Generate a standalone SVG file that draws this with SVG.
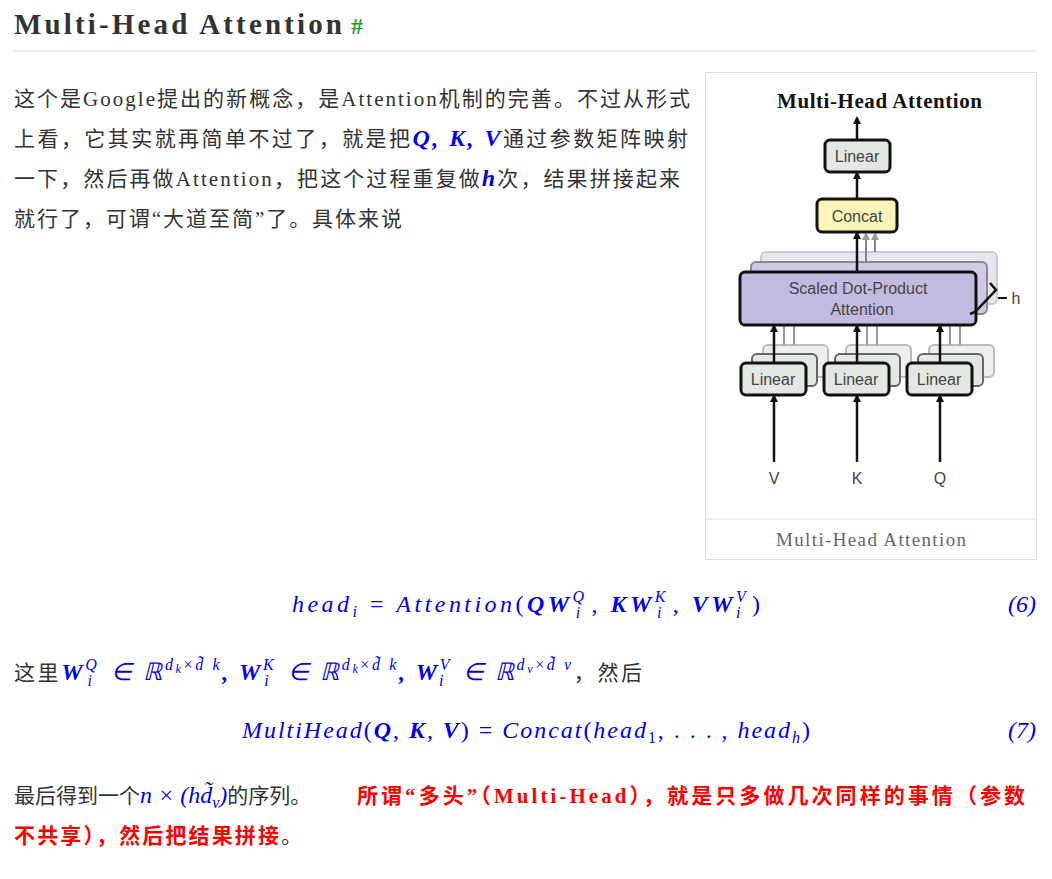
<svg xmlns="http://www.w3.org/2000/svg" width="1052" height="879" viewBox="0 0 1052 879">
<defs>
<style>
.t{font-family:"Liberation Serif","Noto Sans CJK SC",serif;font-size:21px;fill:#333}
.m{font-family:"Liberation Serif",serif;font-style:italic;fill:#0000ee;font-size:24px}
.b{font-weight:bold}
.s{font-size:16px}
.r{font-family:"Liberation Serif","Noto Sans CJK SC",serif;font-size:21px;fill:#f00;font-weight:bold}
.box{stroke:#111;stroke-width:3}
.lbl{font-family:"Liberation Sans",sans-serif;font-size:16px;fill:#444;text-anchor:middle}
.ar{stroke:#111;stroke-width:2.5;fill:none;marker-end:url(#a)}
.gh{fill:#eef0ee;stroke:#bbb;stroke-width:2}
</style>
<marker id="a" markerWidth="8" markerHeight="8" refX="6" refY="4" orient="auto" markerUnits="userSpaceOnUse"><path d="M0,0 L8,4 L0,8 Z" fill="#111"/></marker>
</defs>
<rect width="1052" height="879" fill="#fff"/>
<g id="heading">
<text x="14" y="34" font-family="Liberation Serif,serif" font-size="29" font-weight="bold" fill="#333" textLength="328">Multi-Head Attention</text>
<text x="351" y="34" font-family="Liberation Serif,serif" font-size="24" font-weight="bold" fill="#2a9d2a">#</text>
<line x1="14" y1="51" x2="1036" y2="51" stroke="#ddd"/>
</g>
<g id="para1">
<text class="t" x="14" y="106" textLength="676">这个是Google提出的新概念，是Attention机制的完善。不过从形式</text>
<text class="t" x="14" y="146" textLength="674">上看，它其实就再简单不过了，就是把<tspan class="m b">Q, K, V</tspan>通过参数矩阵映射</text>
<text class="t" x="14" y="186" textLength="666">一下，然后再做Attention，把这个过程重复做<tspan class="m b">h</tspan>次，结果拼接起来</text>
<text class="t" x="14" y="226" textLength="388">就行了，可谓“大道至简”了。具体来说</text>
</g>
<g id="figure">
<rect x="705.5" y="72.5" width="331" height="487" fill="#fff" stroke="#ddd"/>
<line x1="706" y1="519" x2="1036" y2="519" stroke="#ddd"/>
<text x="776" y="546" font-family="Liberation Serif,serif" font-size="19" fill="#666" textLength="190">Multi-Head Attention</text>
<text x="777" y="108" font-family="Liberation Serif,serif" font-size="21" font-weight="bold" fill="#111" textLength="205">Multi-Head Attention</text>
<g id="ghosts">
<rect x="761" y="252" width="236" height="52" rx="5" fill="#e8e4f2" stroke="#ccc" stroke-width="2"/>
<rect x="751" y="262" width="236" height="52" rx="5" fill="#d0c8e4" stroke="#888" stroke-width="2"/>
<rect x="763" y="345" width="65" height="32" rx="5" class="gh"/>
<rect x="846" y="345" width="65" height="32" rx="5" class="gh"/>
<rect x="929" y="345" width="65" height="32" rx="5" class="gh"/>
<rect x="752" y="354" width="65" height="32" rx="5" fill="#e4e8e4" stroke="#666" stroke-width="2"/>
<rect x="835" y="354" width="65" height="32" rx="5" fill="#e4e8e4" stroke="#666" stroke-width="2"/>
<rect x="918" y="354" width="65" height="32" rx="5" fill="#e4e8e4" stroke="#666" stroke-width="2"/>
<path d="M784,345 V325 M794,345 V325 M867,345 V325 M877,345 V325 M950,345 V325 M960,345 V325" stroke="#999" stroke-width="2"/>
<path d="M866,262 V240 M875,252 V240" stroke="#888" stroke-width="2"/>
<path d="M862,240 l4,-8 l4,8 Z M871,240 l4,-8 l4,8 Z" fill="#999"/>
</g>
<g id="sdpa"><rect x="740" y="272" width="236" height="53" rx="5" fill="#c3bbdf" class="box"/>
<text class="lbl" x="858" y="294">Scaled Dot-Product</text><text class="lbl" x="862" y="315">Attention</text></g>
<g id="concat"><rect x="817" y="199" width="80" height="33" rx="5" fill="#fcf4b8" class="box"/><text class="lbl" x="857" y="222">Concat</text></g>
<g id="linear_top"><rect x="825" y="140" width="65" height="32" rx="5" fill="#e3e8e3" class="box"/><text class="lbl" x="857" y="162">Linear</text></g>
<g id="linear_v"><rect x="741" y="363" width="65" height="32" rx="5" fill="#e3e8e3" class="box"/><text class="lbl" x="773" y="385">Linear</text></g>
<g id="linear_k"><rect x="824" y="363" width="65" height="32" rx="5" fill="#e3e8e3" class="box"/><text class="lbl" x="856" y="385">Linear</text></g>
<g id="linear_q"><rect x="907" y="363" width="65" height="32" rx="5" fill="#e3e8e3" class="box"/><text class="lbl" x="939" y="385">Linear</text></g>
<text class="lbl" x="774" y="484" font-size="18">V</text>
<text class="lbl" x="857" y="484" font-size="18">K</text>
<text class="lbl" x="940" y="484" font-size="18">Q</text>
<path d="M990,283 L996,290 L975,312 L970,314" stroke="#111" stroke-width="2.5" fill="none"/>
<line x1="998" y1="298" x2="1007" y2="298" stroke="#111" stroke-width="2"/>
<text class="lbl" x="1016" y="304">h</text>
</g>
<g id="connectors">
<path class="ar" d="M774,462 V396"/>
<path class="ar" d="M857,462 V396"/>
<path class="ar" d="M940,462 V396"/>
<path class="ar" d="M774,362 V326"/>
<path class="ar" d="M857,362 V326"/>
<path class="ar" d="M940,362 V326"/>
<path class="ar" d="M857,271 V233"/>
<path class="ar" d="M857,198 V173"/>
<path class="ar" d="M857,139 V118"/>
</g>
<g id="eq6">
<text class="m" x="292" y="612" textLength="468">head<tspan font-size="16" dy="5">i</tspan><tspan dy="-5" font-style="normal"> = </tspan>Attention<tspan font-style="normal">(</tspan><tspan class="b">QW</tspan><tspan font-size="16" dy="-10">Q</tspan><tspan font-size="16" dx="-12" dy="16">i</tspan><tspan dy="-6" dx="8" font-style="normal">, </tspan><tspan class="b">KW</tspan><tspan font-size="16" dy="-10">K</tspan><tspan font-size="16" dx="-12" dy="16">i</tspan><tspan dy="-6" dx="8" font-style="normal">, </tspan><tspan class="b">VW</tspan><tspan font-size="16" dy="-10">V</tspan><tspan font-size="16" dx="-12" dy="16">i</tspan><tspan dy="-6" dx="8" font-style="normal">)</tspan></text>
<text class="m" x="1036" y="612" text-anchor="end" font-style="normal">(6)</text>
</g>
<g id="para2">
<text class="t" x="14" y="680" textLength="628">这里<tspan class="m b">W</tspan><tspan class="m s" dy="-10">Q</tspan><tspan class="m s" dx="-12" dy="16">i</tspan><tspan class="m" dy="-6" dx="8" font-style="normal"> ∈ ℝ</tspan><tspan class="m s" dy="-10">d<tspan font-size="12" dy="3">k</tspan><tspan dy="-3" font-style="normal">×</tspan>d̃ k</tspan><tspan class="m b" dy="10">, W</tspan><tspan class="m s" dy="-10">K</tspan><tspan class="m s" dx="-12" dy="16">i</tspan><tspan class="m" dy="-6" dx="8" font-style="normal"> ∈ ℝ</tspan><tspan class="m s" dy="-10">d<tspan font-size="12" dy="3">k</tspan><tspan dy="-3" font-style="normal">×</tspan>d̃ k</tspan><tspan class="m b" dy="10">, W</tspan><tspan class="m s" dy="-10">V</tspan><tspan class="m s" dx="-12" dy="16">i</tspan><tspan class="m" dy="-6" dx="8" font-style="normal"> ∈ ℝ</tspan><tspan class="m s" dy="-10">d<tspan font-size="12" dy="3">v</tspan><tspan dy="-3" font-style="normal">×</tspan>d̃ v</tspan><tspan dy="10">，然后</tspan></text>
</g>
<g id="eq7">
<text class="m" x="242" y="738" textLength="568">MultiHead<tspan font-style="normal">(</tspan><tspan class="b">Q</tspan><tspan font-style="normal">, </tspan><tspan class="b">K</tspan><tspan font-style="normal">, </tspan><tspan class="b">V</tspan><tspan font-style="normal">) = </tspan>Concat<tspan font-style="normal">(</tspan>head<tspan font-size="16" dy="5" font-style="normal">1</tspan><tspan dy="-5" font-style="normal">, . . . , </tspan>head<tspan font-size="16" dy="5">h</tspan><tspan dy="-5" font-style="normal">)</tspan></text>
<text class="m" x="1036" y="738" text-anchor="end" font-style="normal">(7)</text>
</g>
<g id="para3">
<text class="t" x="14" y="803">最后得到一个<tspan class="m">n</tspan><tspan class="m" font-style="normal"> × (</tspan><tspan class="m">hd̃</tspan><tspan class="m s" dy="5">v</tspan><tspan class="m" dy="-5" font-style="normal">)</tspan>的序列。</text>
<text class="r" x="357" y="803" textLength="668">所谓“多头”（Multi-Head），就是只多做几次同样的事情（参数</text>
<text class="t" x="14" y="843" textLength="288"><tspan class="r">不共享），然后把结果拼接</tspan>。</text>
</g>
</svg>
